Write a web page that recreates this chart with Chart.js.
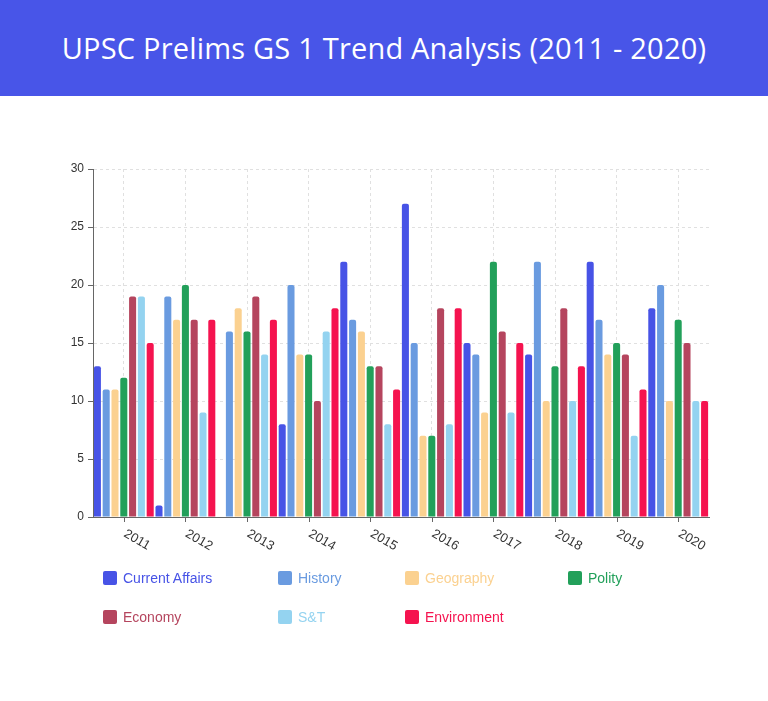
<!DOCTYPE html>
<html><head><meta charset="utf-8">
<script src="https://cdn.jsdelivr.net/npm/chart.js@4"></script>
<style>
body{margin:0;width:768px;height:701px;background:#fff;overflow:hidden;font-family:Arial,"Liberation Sans",sans-serif}
#hdr{position:absolute;left:0;top:0;width:768px;height:96px;background:#4855E8;color:#fff;font-family:"Open Sans",Lato,sans-serif;font-size:29px;text-align:center;line-height:96px;letter-spacing:0.2px}
#wrap{position:absolute;left:0;top:96px;width:768px;height:605px}
.lg{position:absolute;font-size:14px;display:flex;align-items:center;height:18px}
.lg i{display:inline-block;width:14px;height:14px;margin-right:6px;border-radius:2px}
</style></head><body>
<div id="hdr">UPSC Prelims GS 1 Trend Analysis (2011 - 2020)</div>
<div id="wrap"><canvas id="c" width="768" height="605"></canvas></div>
<div id="legend"></div>
<script>
const years=["2011","2012","2013","2014","2015","2016","2017","2018","2019","2020"];
const seriesNames=["Current Affairs","History","Geography","Polity","Economy","S&T","Environment"];
const colors=["#4753E6","#6A9BE0","#FBD190","#22A05A","#B5455E","#94D3F0","#F5134F"];
const currentAffairs=[13,1,null,8,22,27,15,14,22,18];
const history=[11,19,16,20,17,15,14,22,17,20];
const geography=[11,17,18,14,16,7,9,10,14,10];
const polity=[12,20,16,14,13,7,22,13,15,17];
const economy=[19,17,19,10,13,18,16,18,14,15];
const snt=[19,9,14,16,8,8,9,10,7,10];
const environment=[15,17,17,18,11,18,15,13,11,10];
const yTicks=[0,5,10,15,20,25,30];
const allSeries=[currentAffairs,history,geography,polity,economy,snt,environment];

const legendPos=[[103,569],[278,569],[405,569],[568,569],[103,608],[278,608],[405,608]];
const lg=document.getElementById('legend');
seriesNames.forEach((n,i)=>{const d=document.createElement('div');d.className='lg';d.style.left=legendPos[i][0]+'px';d.style.top=legendPos[i][1]+'px';d.style.color=colors[i];d.innerHTML='<i style="background:'+colors[i]+'"></i>';d.appendChild(document.createTextNode(n));lg.appendChild(d);});

const xLabels={id:'xl',afterDraw(ch){const s=ch.scales.x,ctx=ch.ctx;ctx.save();ctx.font='13px Arial';ctx.fillStyle='#333';ctx.textAlign='left';ctx.textBaseline='middle';
years.forEach((y,i)=>{const x=s.getPixelForTick(i);ctx.save();ctx.translate(x+1,ch.chartArea.bottom+16);ctx.rotate(30*Math.PI/180);ctx.fillText(y,0,0);ctx.restore();});ctx.restore();}};

new Chart(document.getElementById('c'),{type:'bar',
data:{labels:years,datasets:seriesNames.map((n,i)=>({label:n,data:allSeries[i],backgroundColor:colors[i],borderRadius:2,barPercentage:0.8,categoryPercentage:1}))},
options:{responsive:false,animation:false,layout:{padding:{left:60,right:59,top:73,bottom:184}},
plugins:{legend:{display:false},tooltip:{enabled:false}},
scales:{
x:{afterFit(s){s.height=0;},ticks:{display:false},grid:{offset:false,color:'#e0e0e0',drawTicks:false,tickColor:'#666'},border:{color:'#666',dash:[3,3]}},
y:{min:0,max:30,afterFit(s){s.width=33;},afterBuildTicks(s){s.ticks=yTicks.map(v=>({value:v}));},ticks:{color:'#333',font:{size:12,family:'Arial'},padding:4},grid:{color:'#e0e0e0',tickLength:5,tickColor:'#666'},border:{color:'#666',dash:[3,3]}}
}},plugins:[xLabels,{id:'tk',afterDraw(ch){const s=ch.scales.x,ctx=ch.ctx;ctx.save();ctx.strokeStyle='#666';ctx.lineWidth=1;ctx.beginPath();ctx.moveTo(ch.chartArea.left,ch.chartArea.bottom+0.5);ctx.lineTo(ch.chartArea.right,ch.chartArea.bottom+0.5);ctx.moveTo(ch.chartArea.left+0.5,ch.chartArea.top);ctx.lineTo(ch.chartArea.left+0.5,ch.chartArea.bottom);years.forEach((y,i)=>{const x=Math.round(s.getPixelForTick(i))+0.5;ctx.moveTo(x,ch.chartArea.bottom);ctx.lineTo(x,ch.chartArea.bottom+5);});ctx.stroke();ctx.restore();}}]});
</script></body></html>
